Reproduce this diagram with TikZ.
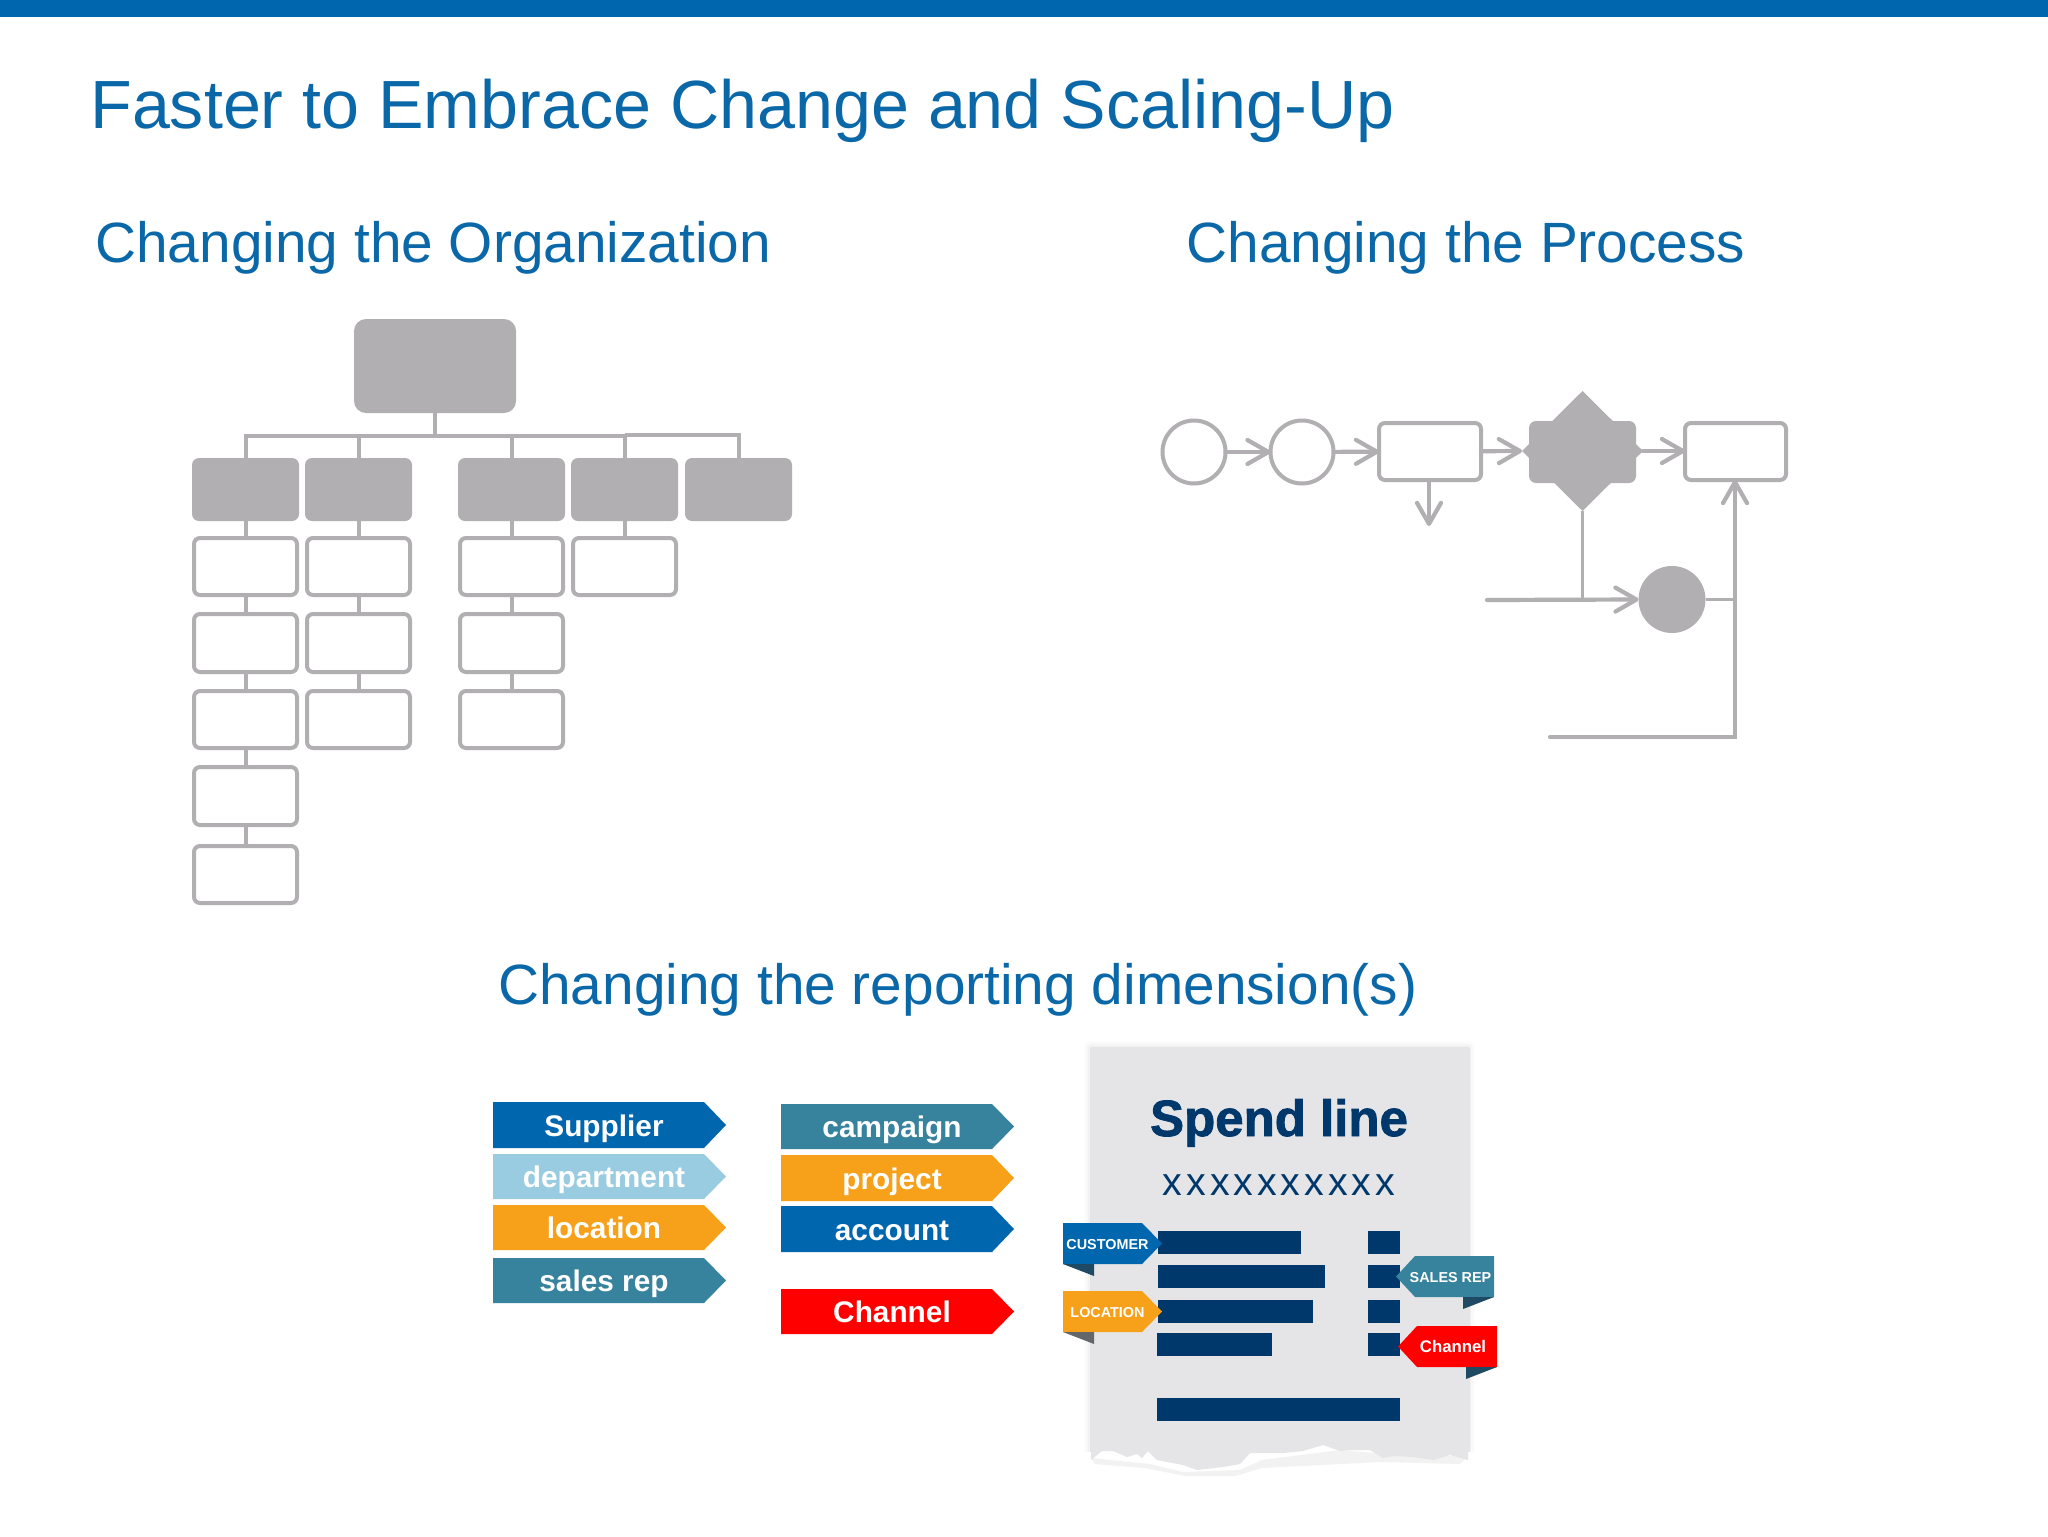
\documentclass[tikz,border=0pt]{standalone}
\usepackage{fontspec}
\setmainfont{Liberation Sans}
\usetikzlibrary{arrows.meta,shapes.geometric}
\definecolor{brand}{HTML}{0066AD}
\definecolor{headc}{HTML}{0A68A8}
\definecolor{greyc}{HTML}{B1AFB2}
\definecolor{lightc}{HTML}{99CCE0}
\definecolor{orangec}{HTML}{F7A11A}
\definecolor{tealc}{HTML}{37829C}
\definecolor{navyc}{HTML}{00386C}
\definecolor{paperc}{HTML}{E5E5E7}
\definecolor{foldc}{HTML}{1F4A63}
\definecolor{foldg}{HTML}{63666A}
\tikzset{
  x=0.5pt,y=-0.5pt,
  title/.style={anchor=base west,inner sep=0,text=headc,font=\fontsize{34.1}{40}\selectfont},
  head/.style={anchor=base west,inner sep=0,text=headc,font=\fontsize{28.4}{34}\selectfont},
  solidbox/.style={fill=greyc,rounded corners=3.5pt,inner sep=0,outer sep=0},
  topbox/.style={fill=greyc,rounded corners=6pt,inner sep=0,outer sep=0},
  linebox/.style={draw=greyc,line width=2pt,fill=white,rounded corners=3pt,inner sep=0,outer sep=0},
  wire/.style={draw=greyc,line width=2pt},
  thinwire/.style={draw=greyc,line width=1.8pt},
  flow/.style={draw=greyc,line width=2.1pt,line cap=round,-{Straight Barb[round,length=10.5pt,width=12pt,line width=2.1pt]}},
  pentext/.style={anchor=base,inner sep=0,text=white,font=\bfseries\fontsize{14.9}{18}\selectfont},
  tagtext/.style={anchor=base,inner sep=0,text=white,font=\bfseries\fontsize{7.2}{9}\selectfont},
}
% name, style, x1, y1, x2, y2 in reference pixels (outer edges)
\newcommand\boxat[6]{\node[#2,minimum width={(#5-#3)*0.5pt},minimum height={(#6-#4)*0.5pt}] (#1) at ({(#3+#5)/2},{(#4+#6)/2}) {};}
\newcommand\lboxat[5]{\node[linebox,minimum width={(#4-#2-4)*0.5pt},minimum height={(#5-#3-4)*0.5pt}] (#1) at ({(#2+#4)/2},{(#3+#5)/2}) {};}
% name, x1, shoulder, tip, ytop, ybot, colour, text, text x
\newcommand\penR[9]{\fill[#7] (#2,#5) -- (#3,#5) -- (#4,{(#5+#6)/2}) -- (#3,#6) -- (#2,#6) -- cycle;
  \node[pentext] (#1) at (#9,{(#5+#6)/2+11}) {#8};}
\newcommand\tagL[8]{\fill[#6] (#2,#4) -- (#3,#4) -- ({#3+20},{(#4+#5)/2}) -- (#3,#5) -- (#2,#5) -- cycle;
  \fill[#7] (#2,#5) -- ({#2+31},#5) -- ({#2+31},{#5+12}) -- cycle;
  \node[tagtext] (#1) at ({(#2+#3+10)/2},{(#4+#5)/2+6}) {#8};}
\newcommand\tagR[8]{\fill[#6] (#2,#4) -- (#3,#4) -- ({#3-19},{(#4+#5)/2}) -- (#3,#5) -- (#2,#5) -- cycle;
  \fill[#7] (#2,#5) -- ({#2-31},#5) -- ({#2-31},{#5+12}) -- cycle;
  \node[tagtext] (#1) at ({(#2+#3-8)/2},{(#4+#5)/2+6}) {#8};}
\begin{document}
\begin{tikzpicture}
\useasboundingbox (0,0) rectangle (2048,1536);
\fill[white] (0,0) rectangle (2048,1536);
\fill[brand] (0,0) rectangle (2048,17);
\node[title] (t0) at (90,128) {Faster to Embrace Change and Scaling-Up};
\node[head] (t1) at (95,262) {Changing the Organization};
\node[head] (t2) at (1186,262) {Changing the Process};
\node[head] (t3) at (498,1004) {Changing the reporting dimension(s)};

% --- organisation chart
\boxat{top}{topbox}{354}{319}{516}{413}
\boxat{g1}{solidbox}{192}{458}{299}{521}
\boxat{g2}{solidbox}{305}{458}{412}{521}
\boxat{g3}{solidbox}{458}{458}{565}{521}
\boxat{g4}{solidbox}{571}{458}{678}{521}
\boxat{g5}{solidbox}{685}{458}{792}{521}
\lboxat{a1}{192}{536}{299}{597}
\lboxat{a2}{192}{612}{299}{674}
\lboxat{a3}{192}{689}{299}{750}
\lboxat{a4}{192}{765}{299}{827}
\lboxat{a5}{192}{844}{299}{905}
\lboxat{b1}{305}{536}{412}{597}
\lboxat{b2}{305}{612}{412}{674}
\lboxat{b3}{305}{689}{412}{750}
\lboxat{c1}{458}{536}{565}{597}
\lboxat{c2}{458}{612}{565}{674}
\lboxat{c3}{458}{689}{565}{750}
\lboxat{d1}{571}{536}{678}{597}
\coordinate (bus) at (top.south |- 0,436);
\coordinate (busr) at (g5.north |- 0,435);
\draw[wire] (top.south) -- (bus);
\draw[wire] (g1.north) |- (bus);
\draw[wire] (g2.north) -- (g2.north |- bus);
\draw[wire] (g3.north) -- (g3.north |- bus);
\draw[wire] (g4.north) -- (g4.north |- bus);
\draw[wire] (bus) -| (g4.north);
\draw[wire] (g4.north |- busr) -- (busr) -- (g5.north);
\foreach \p/\q in {g1/a1,a1/a2,a2/a3,a3/a4,a4/a5,g2/b1,b1/b2,b2/b3,g3/c1,c1/c2,c2/c3,g4/d1}
  \draw[wire] (\p.south) -- (\q.north);

% --- process
\node[circle,draw=greyc,line width=2pt,minimum size=31.5pt,inner sep=0,outer sep=0] (e1) at (1194,452) {};
\node[circle,draw=greyc,line width=2pt,minimum size=31.5pt,inner sep=0,outer sep=0] (e2) at (1302,452) {};
\lboxat{p1}{1377}{421}{1483}{482}
\boxat{gwb}{solidbox}{1529}{421}{1636}{483}
\node[diamond,fill=greyc,shape aspect=1,minimum width=60.5pt,minimum height=60pt,inner sep=0,outer sep=0] (gw) at (1582.5,451) {};
\lboxat{p2}{1683}{421}{1788}{482}
\node[circle,fill=greyc,minimum size=33.5pt,inner sep=0,outer sep=0] (ev) at (1672,599.5) {};
\coordinate (down) at (1429,526);
\coordinate (in1) at (1487,600);
\coordinate (in2) at (1550,737);
\coordinate (corner) at (1735,737);
\coordinate (join) at (1582.5,600);
\draw[flow] (e1) -- (e2);
\draw[flow] (e2) -- (p1);
\draw[flow] (p1) -- (gw.west);
\draw[flow] (gw.east) -- (p2.west |- gw.east);
\draw[flow] (p1.south -| down) -- (down);
\draw[thinwire] (gw.south) -- (join);
\draw[flow] (in1) -- (ev.west);
\draw[thinwire] (ev.east) -- (corner |- ev.east);
\draw[flow] (in2) -- (corner) -- (corner |- p2.south);

% --- dimension tags
\penR{s1}{493}{704}{726}{1102}{1148}{brand}{Supplier}{604}
\penR{s2}{493}{704}{726}{1154}{1199}{lightc}{department}{604}
\penR{s3}{493}{704}{726}{1205}{1250}{orangec}{location}{604}
\penR{s4}{493}{704}{726}{1258}{1303}{tealc}{sales rep}{604}
\penR{r1}{781}{992}{1014}{1104}{1149}{tealc}{campaign}{892}
\penR{r2}{781}{992}{1014}{1155}{1201}{orangec}{project}{892}
\penR{r3}{781}{992}{1014}{1206}{1252}{brand}{account}{892}
\penR{r4}{781}{992}{1014}{1289}{1334}{red}{Channel}{892}

% --- spend line sheet
\foreach \w/\o in {7/0.012,5/0.016,3/0.025,1.5/0.05}
  \draw[black,opacity=\o,line width=\w pt,line join=round] (1091,1452) -- (1091,1048) -- (1468,1048) -- (1468,1452);
\fill[black!5] (1091,1458) -- (1150,1464) -- (1183,1472) -- (1240,1470) -- (1262,1460) -- (1340,1450) -- (1410,1456) -- (1468,1456) -- (1460,1464) -- (1380,1462) -- (1262,1468) -- (1235,1476) -- (1185,1476) -- (1145,1468) -- (1095,1464) -- cycle;
\fill[paperc] (1091,1048) -- (1468,1048) -- (1468,1460) -- (1450,1455) -- (1433,1460) -- (1413,1457) -- (1393,1456) -- (1383,1458) -- (1370,1450) -- (1353,1450) -- (1340,1451) -- (1323,1445) -- (1303,1451) -- (1283,1453) -- (1263,1453) -- (1250,1453) -- (1240,1464) -- (1223,1467) -- (1197,1470) -- (1183,1465) -- (1157,1460) -- (1148,1451) -- (1142,1458) -- (1137,1454) -- (1127,1457) -- (1113,1451) -- (1102,1451) -- (1091,1460) -- cycle;
\node[anchor=base,inner sep=0,text=navyc,font=\bfseries\fontsize{25.5}{30}\selectfont\addfontfeature{FakeBold=1.6}] (sl) at (1279,1136) {Spend line};
\node[anchor=base,inner sep=0,text=navyc,font=\fontsize{19.7}{24}\selectfont\addfontfeature{LetterSpace=10}] (xs) at (1279,1195) {xxxxxxxxxx};
\foreach \a/\b/\c in {1158/1301/1231,1158/1325/1265,1158/1313/1300,1157/1272/1333}{
  \fill[navyc] (\a,\c) rectangle (\b,\c+23);
  \fill[navyc] (1368,\c) rectangle (1400,\c+23);
}
\fill[navyc] (1157,1398) rectangle (1400,1421);
\tagL{tc}{1063}{1142}{1223}{1264}{brand}{foldc}{CUSTOMER}
\tagL{tl}{1063}{1142}{1291}{1332}{orangec}{foldg}{LOCATION}
\tagR{ts}{1494}{1415}{1256}{1297}{tealc}{foldc}{SALES REP}
\tagR{tr}{1497}{1417}{1326}{1367}{red}{foldc}{\fontsize{8.4}{10}\selectfont Channel}
\end{tikzpicture}
\end{document}
